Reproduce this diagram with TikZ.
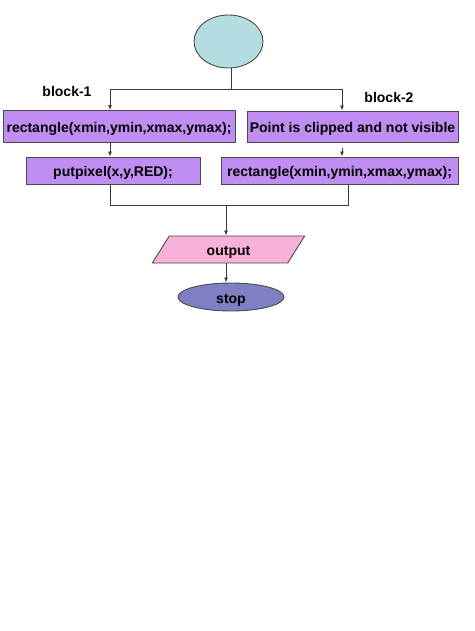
\documentclass[tikz,border=0pt]{standalone}
\usepackage{fontspec}
\setmainfont{Liberation Sans}
\usetikzlibrary{shapes.geometric,arrows.meta}
\definecolor{startfill}{HTML}{B5DCE0}
\definecolor{boxfill}{HTML}{C08EF2}
\definecolor{outfill}{HTML}{F7B0D8}
\definecolor{stopfill}{HTML}{7F7FC4}
\definecolor{edge}{HTML}{4A4A4A}
\definecolor{linec}{HTML}{3A3A3A}
\tikzset{
  every node/.style={font=\fontsize{14}{16}\selectfont\bfseries, text=black, text height=12pt, text depth=0pt},
  procbox/.style={draw=edge, fill=boxfill, line width=0.9pt, inner sep=0pt, minimum height=28},
  conn/.style={draw=linec, line width=0.9pt},
  arr/.style={conn, -{Latex[length=5,width=4]}},
  lbl/.style={inner sep=0pt}
}
\begin{document}
\begin{tikzpicture}[x=1pt,y=-1pt]
\useasboundingbox (0,0) rectangle (474,631);
\node[ellipse, draw=edge, fill=startfill, line width=0.9pt, minimum width=69, minimum height=53, inner sep=0pt] (start) at (228.5,41.5) {};
\node[procbox, minimum width=232, minimum height=31.5] (b1) at (119,126.3) {rectangle(xmin,ymin,xmax,ymax);};
\node[procbox, minimum width=211, minimum height=31] (b2) at (352.5,126.5) {Point is clipped and not visible};
\node[procbox, minimum width=174, minimum height=27] (b3) at (113,170.5) {putpixel(x,y,RED);};
\node[procbox, minimum width=237, minimum height=27] (b4) at (339.5,170.5) {rectangle(xmin,ymin,xmax,ymax);};
\node[trapezium, trapezium left angle=62.6, trapezium right angle=117.4, trapezium stretches=true, draw=edge, fill=outfill, line width=0.9pt, minimum width=153, minimum height=27, inner sep=0pt] (out) at (228.5,249.5) {output};
\node[ellipse, draw=edge, fill=stopfill, line width=0.9pt, minimum width=106, minimum height=28, inner sep=0pt] (stop) at (231,297) {stop};
\node[lbl] (l1) at (67,91) {block-1};
\node[lbl] (l2) at (389,96.7) {block-2};
\coordinate (jt) at (231,89);
\coordinate (jl) at (110,89);
\coordinate (jr) at (342,89);
\coordinate (jb) at (110,205);
\coordinate (jbr) at (348,205);
\coordinate (jm) at (226,205);
\draw[conn] (start.south -| jt) -- (jt);
\draw[arr] (jt) -- (jl) -- (jl |- b1.north);
\draw[arr] (jt) -- (jr) -- (jr |- b2.north);
\draw[arr] (jl |- b1.south) -- (jl |- b3.north);
\draw[arr] ([yshift=-6]jr |- b2.south) -- (jr |- b4.north);
\draw[conn] (jl |- b3.south) -- (jb) -- (jbr) -- (jbr |- b4.south);
\draw[arr] (jm) -- (jm |- out.north);
\draw[arr] (jm |- out.south) -- (jm |- stop.north);
\end{tikzpicture}
\end{document}
